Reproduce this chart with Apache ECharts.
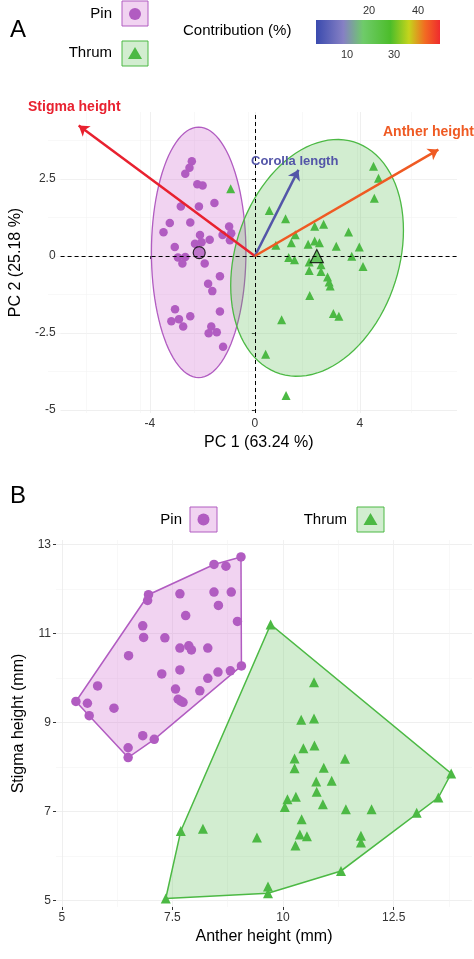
<!DOCTYPE html>
<html>
<head>
<meta charset="utf-8">
<script src="https://cdn.jsdelivr.net/npm/echarts@6/dist/echarts.min.js"></script>
<style>html,body{margin:0;padding:0;background:#fff}#main{width:474px;height:959px}</style>
</head>
<body>
<div id="main"></div>
<script>
// PCA scores (panel A)
const pcaPin = [[-2.40,3.08],[-2.49,2.87],[-2.65,2.67],[-2.19,2.33],[-1.99,2.29],[-2.82,1.61],[-2.13,1.61],[-1.54,1.72],[-3.24,1.07],[-2.46,1.09],[-3.48,0.77],[-0.98,0.96],[-0.90,0.74],[-2.09,0.68],[-1.72,0.53],[-2.03,0.45],[-1.23,0.68],[-0.95,0.51],[-3.05,0.29],[-2.93,-0.05],[-2.65,-0.03],[-2.76,-0.24],[-1.91,-0.24],[-1.78,-0.90],[-1.62,-1.14],[-1.33,-0.66],[-3.04,-1.73],[-3.18,-2.12],[-2.89,-2.05],[-2.73,-2.29],[-2.46,-1.96],[-1.33,-1.80],[-1.66,-2.29],[-1.76,-2.51],[-1.45,-2.48],[-1.21,-2.95],[-2.28,0.40]];
const pcaThrum = [[-0.92,2.19],[4.52,2.92],[4.71,2.53],[4.55,1.88],[0.55,1.48],[1.17,1.21],[2.28,0.97],[2.62,1.03],[3.57,0.78],[1.54,0.69],[1.39,0.43],[0.80,0.35],[2.03,0.38],[2.28,0.49],[2.46,0.43],[3.10,0.32],[3.98,0.29],[3.69,-0.01],[4.12,-0.34],[1.29,-0.05],[1.51,-0.12],[2.07,-0.19],[2.52,-0.28],[2.07,-0.47],[2.52,-0.50],[2.77,-0.68],[2.83,-0.84],[2.87,-0.97],[2.09,-1.28],[2.99,-1.87],[3.20,-1.96],[1.02,-2.07],[0.41,-3.19],[1.19,-4.53]];
const centroidPin = [-2.12, 0.11];
const centroidThrum = [2.36, 0.0];
// ellipse: [cx, cy, a, b, c]  x = cx + a*cos t, y = cy + b*cos t + c*sin t
const ellipsePin = [-2.14, 0.12, 1.8, 0.0, 4.07];
const ellipseThrum = [2.37, -0.06, 3.29, 0.90, 3.74];
const loadings = [
  {name: 'Stigma height', end: [-6.71, 4.24], color: '#e8212f'},
  {name: 'Corolla length', end: [1.66, 2.80], color: '#5355a8'},
  {name: 'Anther height', end: [6.99, 3.46], color: '#ef5a23'}
];
// raw measurements (panel B): [anther, stigma]
const rawPin = [[5.32,9.47],[5.58,9.43],[5.62,9.15],[5.81,9.82],[6.18,9.32],[6.51,10.50],[6.50,8.43],[6.50,8.21],[6.83,11.17],[6.85,10.91],[6.83,8.70],[7.09,8.62],[6.96,11.87],[6.94,11.74],[7.33,10.90],[7.26,10.09],[7.67,11.89],[7.80,11.40],[7.67,10.67],[7.87,10.72],[7.93,10.63],[7.67,10.18],[7.57,9.75],[7.63,9.52],[7.69,9.48],[7.74,9.45],[8.12,9.71],[8.30,10.67],[8.30,9.99],[8.44,12.55],[8.44,11.93],[8.54,11.63],[8.71,12.51],[8.83,11.93],[8.53,10.13],[8.81,10.16],[8.97,11.27],[9.05,12.72],[9.06,10.27]];
const rawThrum = [[7.35,5.04],[7.69,6.56],[8.19,6.61],[9.41,6.41],[9.66,5.16],[9.66,5.31],[9.72,11.20],[10.04,7.10],[10.10,7.27],[10.28,6.23],[10.29,7.33],[10.38,6.48],[10.42,6.82],[10.41,9.06],[10.46,8.42],[10.54,6.44],[10.70,9.90],[10.70,9.09],[10.71,8.48],[10.75,7.67],[10.76,7.44],[10.90,7.16],[10.92,7.98],[11.10,7.69],[11.31,5.66],[11.40,8.18],[11.42,7.05],[11.76,6.45],[11.76,6.30],[12.00,7.05],[13.02,6.97],[13.51,7.31],[13.80,7.85],[10.26,7.97],[10.26,8.19]];
const xTicksA = [-4, 0, 4], yTicksA = [-5, -2.5, 0, 2.5];
const xTicksB = [5, 7.5, 10, 12.5], yTicksB = [5, 7, 9, 11, 13];

const PIN = '#b15cc1', THRUM = '#4cb944';
const FONT = 'Liberation Sans, Arial, sans-serif';

function hull(pts) {
  const p = pts.slice().sort((a, b) => a[0] - b[0] || a[1] - b[1]);
  const cr = (o, a, b) => (a[0]-o[0])*(b[1]-o[1]) - (a[1]-o[1])*(b[0]-o[0]);
  const lo = [], up = [];
  for (const q of p) { while (lo.length >= 2 && cr(lo[lo.length-2], lo[lo.length-1], q) <= 0) lo.pop(); lo.push(q); }
  for (const q of p.slice().reverse()) { while (up.length >= 2 && cr(up[up.length-2], up[up.length-1], q) <= 0) up.pop(); up.push(q); }
  return lo.slice(0, -1).concat(up.slice(0, -1));
}
function ellipseSeries(e, color, fill) {
  return {
    type: 'custom', xAxisIndex: 0, yAxisIndex: 0, data: [0], z: 1, silent: true,
    renderItem(params, api) {
      const pts = [];
      for (let i = 0; i <= 100; i++) {
        const t = i / 100 * Math.PI * 2;
        pts.push(api.coord([e[0] + e[2]*Math.cos(t), e[1] + e[3]*Math.cos(t) + e[4]*Math.sin(t)]));
      }
      return {type: 'polygon', shape: {points: pts}, style: {fill: fill, stroke: color, lineWidth: 1.3}};
    }
  };
}
function hullSeries(pts, color, fill) {
  const h = hull(pts);
  return {
    type: 'custom', xAxisIndex: 2, yAxisIndex: 2, data: [0], z: 1, silent: true,
    renderItem(params, api) {
      return {type: 'polygon', shape: {points: h.map(p => api.coord(p))}, style: {fill: fill, stroke: color, lineWidth: 1.5}};
    }
  };
}
function axisBase(min, max, ticks, name, gap, extra) {
  return Object.assign({
    type: 'value', min: min, max: max, name: name, nameLocation: 'middle', nameGap: gap,
    nameTextStyle: {fontSize: 16, color: '#000', fontFamily: FONT},
    axisLine: {show: false},
    axisTick: {show: true, length: 3, lineStyle: {color: '#333'}, customValues: ticks},
    axisLabel: {customValues: ticks, fontSize: 12, color: '#333', fontFamily: FONT, margin: 5},
    splitLine: {show: true, lineStyle: {color: '#ebebeb', width: 0.8}}
  }, extra || {});
}
function gridAxis(min, max, vals, idx, extra) {
  return Object.assign({
    type: 'value', min: min, max: max, gridIndex: idx,
    axisLine: {show: false}, axisLabel: {show: false},
    axisTick: {show: true, length: 0, customValues: vals},
    splitLine: {show: true, lineStyle: {color: '#f3f3f3', width: 0.6}}
  }, extra || {});
}
const stepVals = (a, b, s) => { const r = []; for (let v = a; v <= b + 1e-9; v += s) r.push(+v.toFixed(3)); return r; };

const chart = echarts.init(document.getElementById('main'));
chart.setOption({
  animation: false,
  grid: [
    {left: 48, top: 112, width: 409, height: 301},
    {left: 48, top: 112, width: 409, height: 301},
    {left: 56, top: 540, width: 416, height: 367},
    {left: 56, top: 540, width: 416, height: 367}
  ],
  xAxis: [
    axisBase(-7.4, 7.7, xTicksA, 'PC 1 (63.24 %)', 22, {gridIndex: 0}),
    gridAxis(-7.4, 7.7, stepVals(-6, 6, 2), 1),
    axisBase(4.87, 14.27, xTicksB, 'Anther height (mm)', 22, {gridIndex: 2}),
    gridAxis(4.87, 14.27, stepVals(6.25, 13.75, 1.25), 3)
  ],
  yAxis: [
    axisBase(-5.1, 4.68, yTicksA, 'PC 2 (25.18 %)', 30, {gridIndex: 0}),
    gridAxis(-5.1, 4.68, stepVals(-3.75, 3.75, 1.25), 1),
    axisBase(4.85, 13.1, yTicksB, 'Stigma height (mm)', 28, {gridIndex: 2}),
    gridAxis(4.85, 13.1, stepVals(6, 12, 2), 3)
  ],
  series: [
    ellipseSeries(ellipsePin, PIN, 'rgba(210,110,210,0.3)'),
    ellipseSeries(ellipseThrum, THRUM, 'rgba(76,185,68,0.25)'),
    {type: 'scatter', xAxisIndex: 0, yAxisIndex: 0, data: pcaPin, symbol: 'circle', symbolSize: 8.5,
     itemStyle: {color: PIN, opacity: 1}, z: 3,
     markLine: {silent: true, symbol: 'none', label: {show: false},
       lineStyle: {color: '#000', type: [4, 3], width: 1},
       data: [{xAxis: 0}, {yAxis: 0}]}},
    {type: 'scatter', xAxisIndex: 0, yAxisIndex: 0, data: pcaThrum, symbol: 'triangle', symbolSize: 9,
     itemStyle: {color: THRUM, opacity: 1}, z: 3},
    {type: 'scatter', xAxisIndex: 0, yAxisIndex: 0, data: [centroidPin], symbol: 'circle', symbolSize: 12,
     itemStyle: {color: PIN, borderColor: '#000', borderWidth: 1.2}, z: 4},
    {type: 'scatter', xAxisIndex: 0, yAxisIndex: 0, data: [centroidThrum], symbol: 'triangle', symbolSize: 13,
     itemStyle: {color: THRUM, borderColor: '#000', borderWidth: 1.2}, z: 4},
    {type: 'lines', coordinateSystem: 'cartesian2d', xAxisIndex: 0, yAxisIndex: 0, z: 5,
     symbol: ['none', 'arrow'], symbolSize: 10,
     data: loadings.map(l => ({coords: [[0, 0], l.end], lineStyle: {color: l.color, width: 2.5, opacity: 1}}))},
    hullSeries(rawPin, PIN, 'rgba(210,110,210,0.3)'),
    hullSeries(rawThrum, THRUM, 'rgba(76,185,68,0.25)'),
    {type: 'scatter', xAxisIndex: 2, yAxisIndex: 2, data: rawPin, symbol: 'circle', symbolSize: 9.5,
     itemStyle: {color: PIN, opacity: 1}, z: 3},
    {type: 'scatter', xAxisIndex: 2, yAxisIndex: 2, data: rawThrum, symbol: 'triangle', symbolSize: 10,
     itemStyle: {color: THRUM, opacity: 1}, z: 3}
  ],
  graphic: [
    {type: 'text', left: 10, top: 18, style: {text: 'A', fontSize: 24, fontFamily: FONT, fill: '#000'}},
    {type: 'text', left: 10, top: 484, style: {text: 'B', fontSize: 24, fontFamily: FONT, fill: '#000'}},
    // legend A
    {type: 'text', x: 112, y: 14, style: {text: 'Pin', fontSize: 15, fontFamily: FONT, fill: '#000', align: 'right', verticalAlign: 'middle'}},
    {type: 'text', x: 112, y: 53, style: {text: 'Thrum', fontSize: 15, fontFamily: FONT, fill: '#000', align: 'right', verticalAlign: 'middle'}},
    {type: 'rect', shape: {x: 122, y: 1, width: 26, height: 25}, style: {fill: 'rgba(210,110,210,0.3)', stroke: PIN, lineWidth: 1}},
    {type: 'circle', shape: {cx: 135, cy: 14, r: 6}, style: {fill: PIN}},
    {type: 'rect', shape: {x: 122, y: 41, width: 26, height: 25}, style: {fill: 'rgba(76,185,68,0.25)', stroke: THRUM, lineWidth: 1}},
    {type: 'polygon', shape: {points: [[135, 47], [142, 59], [128, 59]]}, style: {fill: THRUM}},
    {type: 'text', x: 183, y: 31, style: {text: 'Contribution (%)', fontSize: 15, fontFamily: FONT, fill: '#000', verticalAlign: 'middle'}},
    {type: 'rect', shape: {x: 316, y: 20, width: 124, height: 24}, style: {fill: new echarts.graphic.LinearGradient(0, 0, 1, 0, [
      {offset: 0, color: '#3a4aae'}, {offset: 0.22, color: '#8680c4'}, {offset: 0.38, color: '#6fcb6a'},
      {offset: 0.6, color: '#4cbd2a'}, {offset: 0.75, color: '#c5d41c'}, {offset: 0.88, color: '#f26a22'}, {offset: 1, color: '#ef2b2e'}])}},
    {type: 'text', x: 369, y: 11, style: {text: '20', fontSize: 11, fontFamily: FONT, fill: '#333', align: 'center', verticalAlign: 'middle'}},
    {type: 'text', x: 418, y: 11, style: {text: '40', fontSize: 11, fontFamily: FONT, fill: '#333', align: 'center', verticalAlign: 'middle'}},
    {type: 'text', x: 347, y: 55, style: {text: '10', fontSize: 11, fontFamily: FONT, fill: '#333', align: 'center', verticalAlign: 'middle'}},
    {type: 'text', x: 394, y: 55, style: {text: '30', fontSize: 11, fontFamily: FONT, fill: '#333', align: 'center', verticalAlign: 'middle'}},
    // loading labels
    {type: 'text', x: 28, y: 107, z: 10, style: {text: 'Stigma height', fontSize: 14, fontWeight: 'bold', fontFamily: FONT, fill: '#e8212f', verticalAlign: 'middle'}},
    {type: 'text', x: 251, y: 161, z: 10, style: {text: 'Corolla length', fontSize: 13, fontWeight: 'bold', fontFamily: FONT, fill: '#5355a8', verticalAlign: 'middle'}},
    {type: 'text', x: 474, y: 132, z: 10, style: {text: 'Anther height', fontSize: 14, fontWeight: 'bold', fontFamily: FONT, fill: '#ef5a23', align: 'right', verticalAlign: 'middle'}},
    // legend B
    {type: 'text', x: 182, y: 520, style: {text: 'Pin', fontSize: 15, fontFamily: FONT, fill: '#000', align: 'right', verticalAlign: 'middle'}},
    {type: 'rect', shape: {x: 190, y: 507, width: 27, height: 25}, style: {fill: 'rgba(210,110,210,0.3)', stroke: PIN, lineWidth: 1}},
    {type: 'circle', shape: {cx: 203.5, cy: 519.5, r: 6}, style: {fill: PIN}},
    {type: 'text', x: 347, y: 520, style: {text: 'Thrum', fontSize: 15, fontFamily: FONT, fill: '#000', align: 'right', verticalAlign: 'middle'}},
    {type: 'rect', shape: {x: 357, y: 507, width: 27, height: 25}, style: {fill: 'rgba(76,185,68,0.25)', stroke: THRUM, lineWidth: 1}},
    {type: 'polygon', shape: {points: [[370.5, 513], [377.5, 525], [363.5, 525]]}, style: {fill: THRUM}}
  ]
});
</script>
</body>
</html>
